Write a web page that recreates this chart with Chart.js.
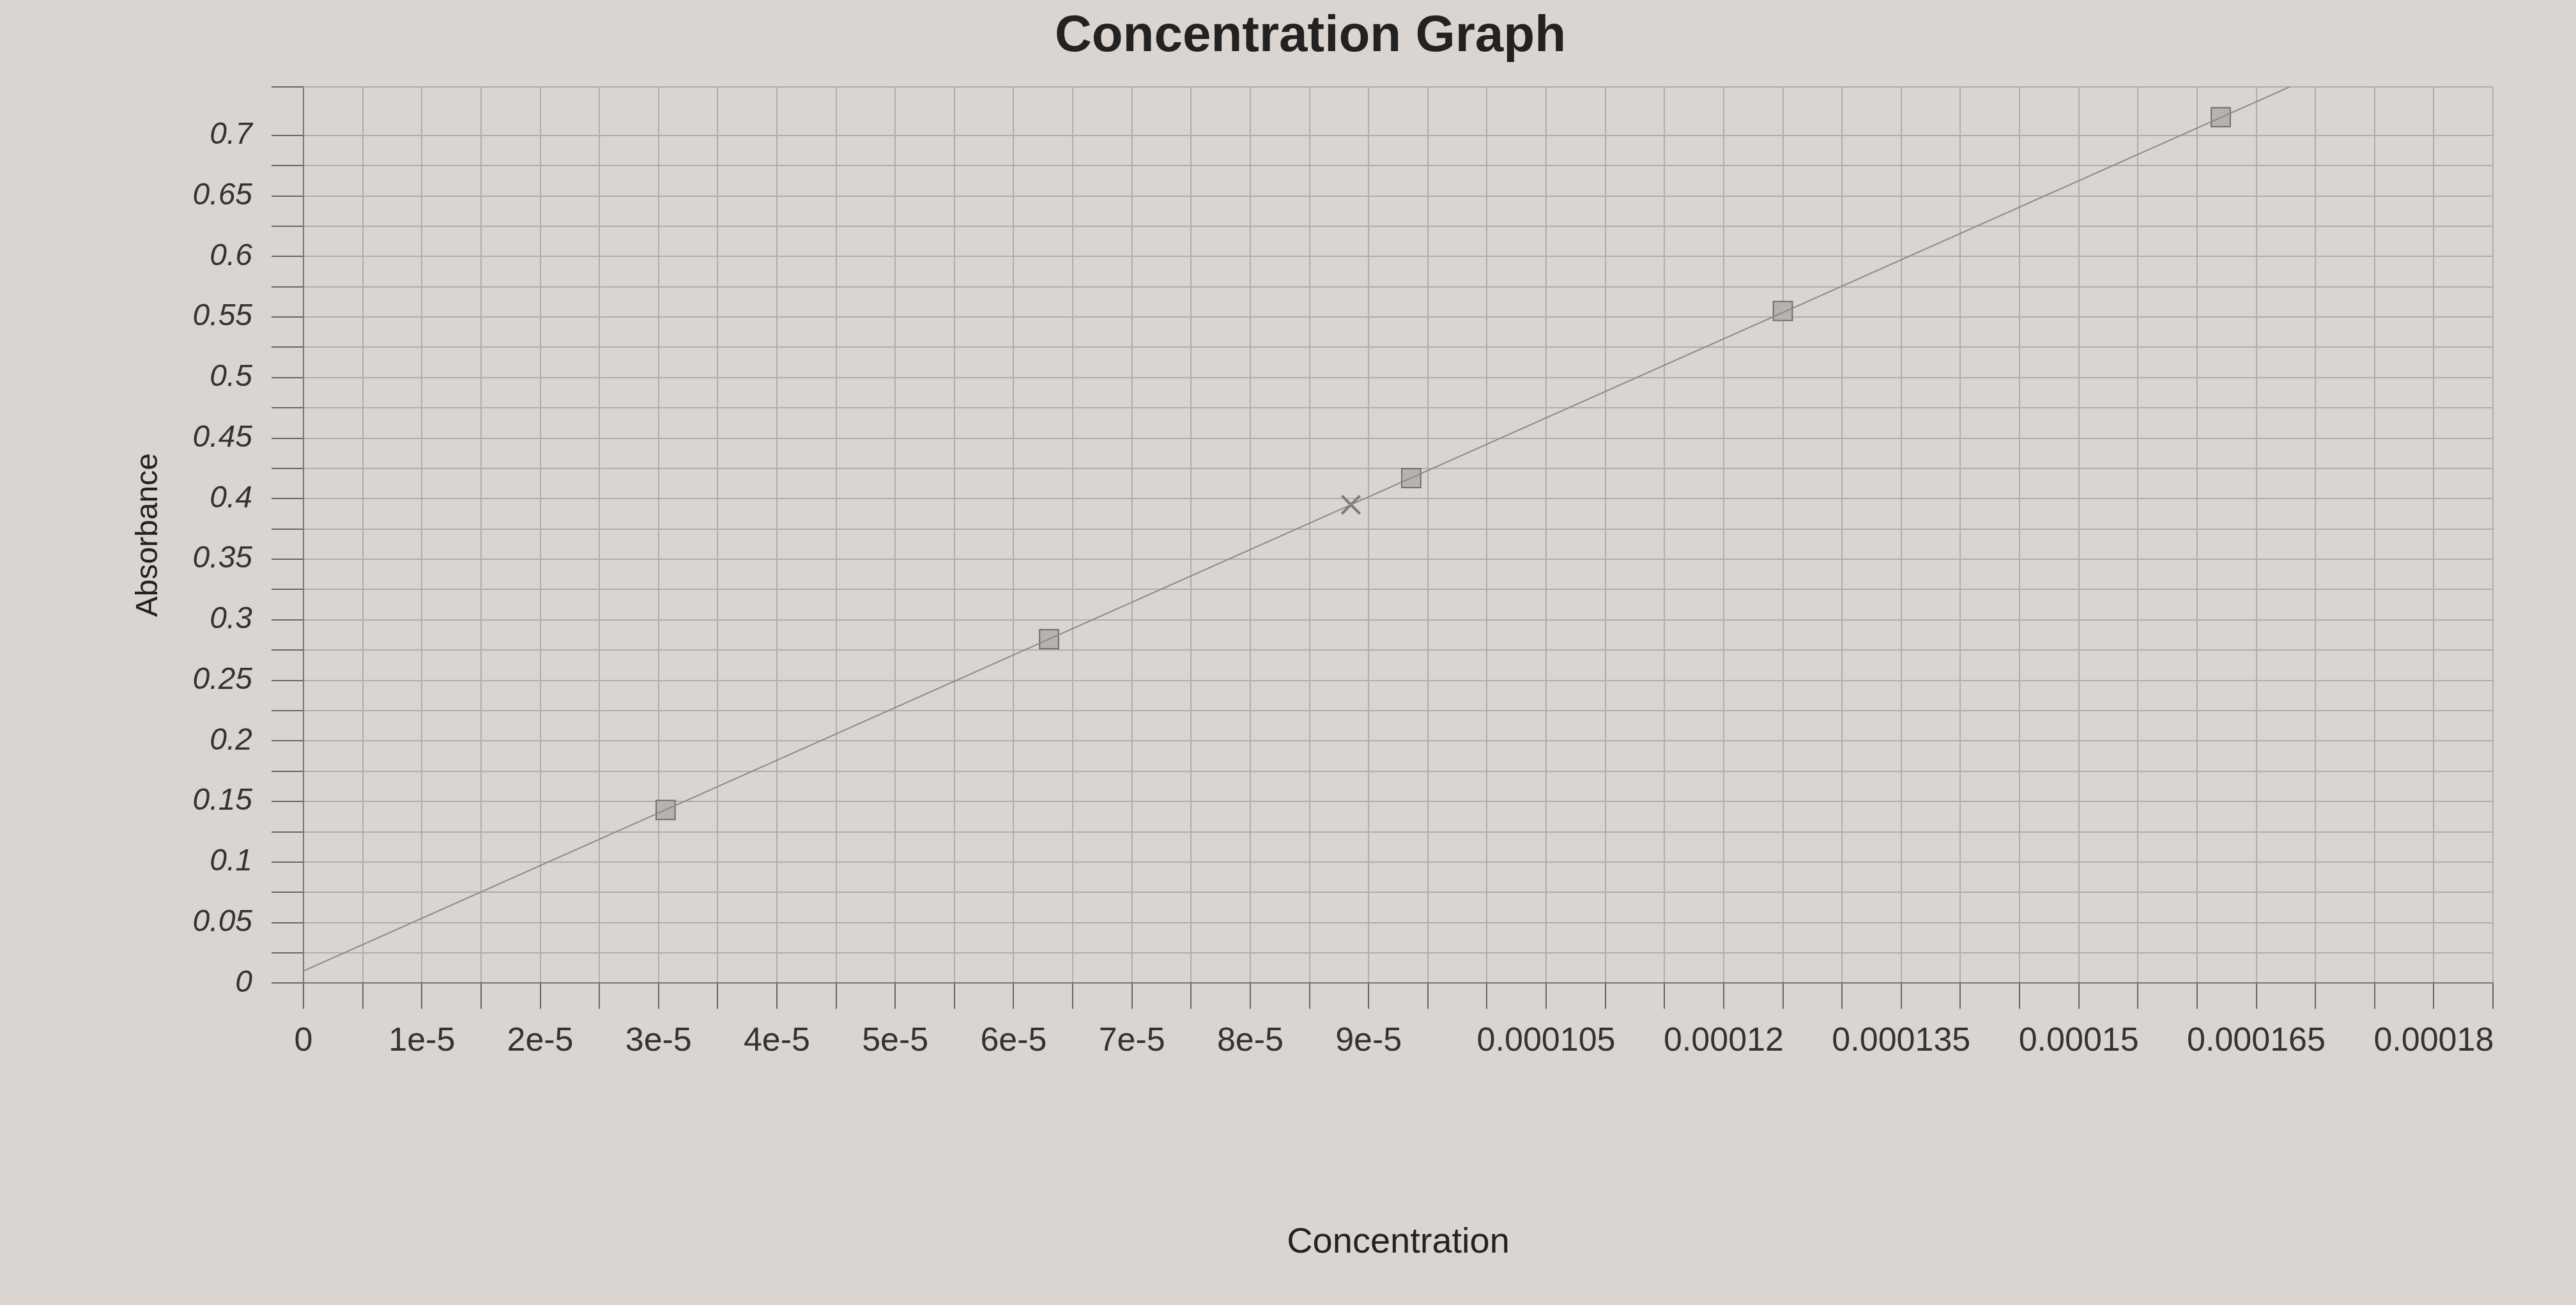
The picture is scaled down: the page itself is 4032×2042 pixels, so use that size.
<!DOCTYPE html>
<html><head><meta charset="utf-8">
<script src="https://cdn.jsdelivr.net/npm/chart.js@4/dist/chart.umd.min.js"></script>
<style>html,body{margin:0;background:#dbd5d2;}#w{width:4032px;height:2042px;}</style>
</head><body><div id="w"><canvas id="c"></canvas></div>
<script>
const standardX = [0.0000306, 0.000063, 0.0000936, 0.000125, 0.000162];
const standardY = [0.143, 0.284, 0.417, 0.555, 0.715];
const unknownX = [0.0000885];
const unknownY = [0.395];
const fitX = [0, 0.00018];
const fitY = [0.01, 0.793];
const xTickLabels = ['0','1e-5','2e-5','3e-5','4e-5','5e-5','6e-5','7e-5','8e-5','9e-5','0.000105','0.00012','0.000135','0.00015','0.000165','0.00018'];
const yTickLabels = ['0','0.05','0.1','0.15','0.2','0.25','0.3','0.35','0.4','0.45','0.5','0.55','0.6','0.65','0.7'];
const pts = (xs, ys) => xs.map((x, i) => ({x, y: ys[i]}));
const labelFor = (v, list) => { for (const l of list) if (Math.abs(parseFloat(l) - v) < 1e-9) return l; return ''; };
const gridCol = '#aeaeaa';
new Chart(document.getElementById('c'), {
  type: 'scatter',
  data: { datasets: [
    { data: pts(fitX, fitY), showLine: true, borderColor: '#8a8a8a', borderWidth: 2, pointRadius: 0 },
    { data: pts(standardX, standardY), pointStyle: 'rect', pointRadius: 21, backgroundColor: '#b5b2b0', borderColor: '#6e6e6e', borderWidth: 2 },
    { data: pts(unknownX, unknownY), pointStyle: 'crossRot', pointRadius: 20, borderColor: '#7a7a7a', borderWidth: 4 }
  ]},
  options: {
    responsive: true, maintainAspectRatio: false, animation: false,
    layout: { padding: { left: 200, right: 130, top: 10, bottom: 60 } },
    plugins: {
      legend: { display: false }, tooltip: { enabled: false },
      title: { display: true, text: 'Concentration Graph', color: '#222', font: { family: 'Liberation Sans', size: 80, weight: 'bold' }, padding: { bottom: 30 } }
    },
    scales: {
      x: { type: 'linear', min: 0, max: 0.000185,
        ticks: { stepSize: 0.000005, autoSkip: false, maxRotation: 0, color: '#333', font: { family: 'Liberation Sans', size: 52 }, padding: 20,
          callback: v => labelFor(v, xTickLabels) },
        grid: { color: gridCol, lineWidth: 2, tickLength: 40, tickColor: '#666' },
        border: { color: '#777', width: 2 },
        title: { display: true, text: 'Concentration', color: '#222', font: { family: 'Liberation Sans', size: 56 }, padding: { top: 230 } } },
      y: { type: 'linear', min: 0, max: 0.74,
        ticks: { stepSize: 0.025, autoSkip: false, color: '#333', font: { family: 'Liberation Sans', size: 48, style: 'italic' }, padding: 30,
          callback: v => labelFor(v, yTickLabels) },
        grid: { color: gridCol, lineWidth: 2, tickLength: 50, tickColor: '#666' },
        border: { color: '#777', width: 2 },
        title: { display: true, text: 'Absorbance', color: '#222', font: { family: 'Liberation Sans', size: 48 }, padding: { bottom: 10 } } }
    }
  }
});
</script></body></html>
